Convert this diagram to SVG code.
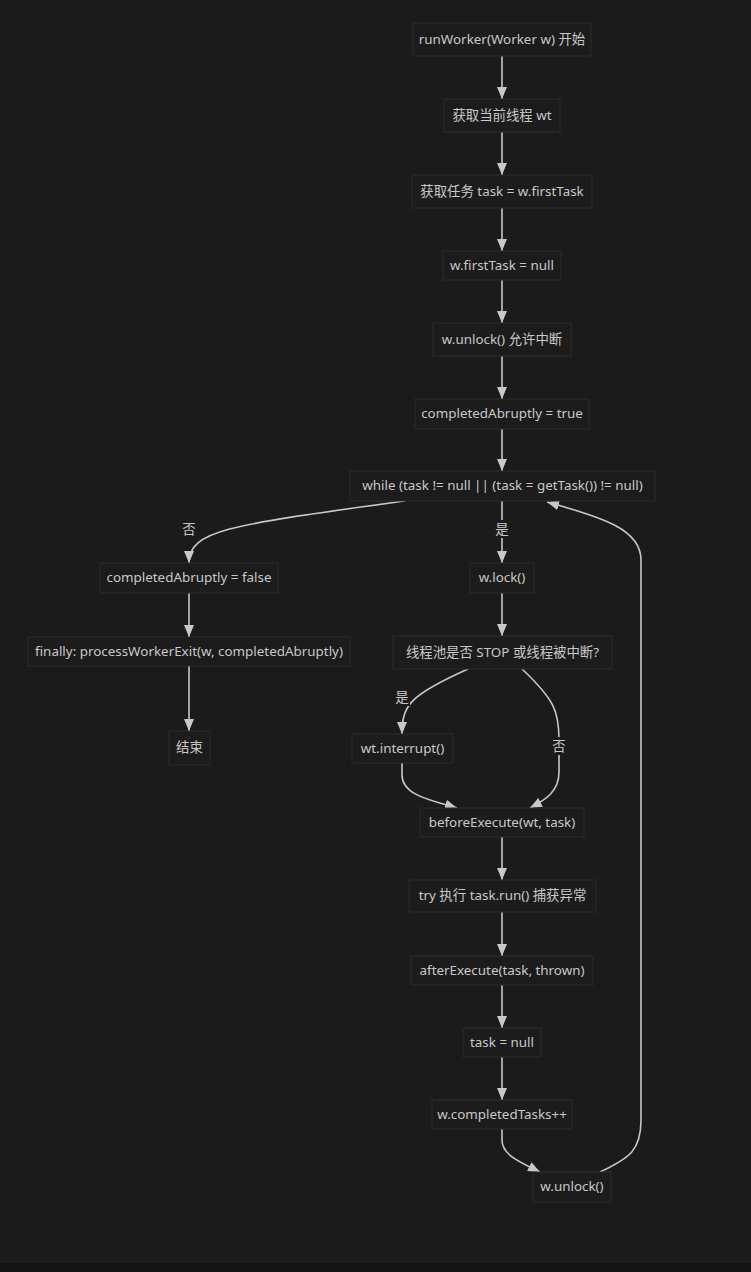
<svg xmlns="http://www.w3.org/2000/svg" width="751" height="1272" viewBox="0 0 751 1272">
<defs>
<style>
.bg{fill:#1b1b1b}
.node rect{fill:#1c1c1c;stroke:#2c2c2c;stroke-width:1}
.node text,.lbl text{fill:#c8c8c8;font-family:"Noto Sans","Noto Sans CJK SC",sans-serif;font-size:13.4px;text-anchor:middle;dominant-baseline:central}
.edge{fill:none;stroke:#c8c8c8;stroke-width:1.6;marker-end:url(#arr)}
.lbl rect{fill:#1b1b1b}
</style>
<marker id="arr" viewBox="0 0 12 10" refX="12" refY="5" markerWidth="12" markerHeight="10" orient="auto" markerUnits="userSpaceOnUse">
<path d="M0,0 L12,5 L0,10 z" fill="#c8c8c8"/>
</marker>
</defs>
<rect class="bg" x="0" y="0" width="751" height="1272"/>
<rect x="0" y="1263" width="751" height="9" fill="#131313"/>
<g id="connectors">
<path class="edge" d="M502,56 L502,99"/>
<path class="edge" d="M502,132 L502,175"/>
<path class="edge" d="M502,208 L502,251"/>
<path class="edge" d="M502,280 L502,323"/>
<path class="edge" d="M502,356 L502,399"/>
<path class="edge" d="M502,429 L502,471"/>
<path class="edge" d="M405,501 C230,525 189,530 189,563"/>
<path class="edge" d="M502,501 L502,563"/>
<path class="edge" d="M189,593 L189,637"/>
<path class="edge" d="M189,666 L189,731"/>
<path class="edge" d="M502,593 L502,636"/>
<path class="edge" d="M468,669 C410,695 402,705 402,734"/>
<path class="edge" d="M522,669 C555,700 559,712 559,740 L559,772 C559,792 545,800 530,808"/>
<path class="edge" d="M402,763 L402,775 C402,795 430,800 457,808"/>
<path class="edge" d="M502,837 L502,880"/>
<path class="edge" d="M502,912 L502,956"/>
<path class="edge" d="M502,985 L502,1028"/>
<path class="edge" d="M502,1057 L502,1100"/>
<path class="edge" d="M502,1129 L502,1140 C502,1155 520,1162 540,1172"/>
<path class="edge" d="M600,1172 C630,1158 641,1150 641,1120 L641,560 C641,530 605,518 547,502"/>
</g>
<g id="edge-labels">
<g class="lbl"><rect x="181" y="520" width="16" height="18"/><text x="189" y="529">否</text></g>
<g class="lbl"><rect x="494" y="520" width="16" height="18"/><text x="502" y="529">是</text></g>
<g class="lbl"><rect x="394" y="688" width="16" height="18"/><text x="402" y="697">是</text></g>
<g class="lbl"><rect x="551" y="737" width="16" height="18"/><text x="559" y="746">否</text></g>
</g>
<g id="n1" class="node"><rect x="413" y="23" width="178" height="33"/><text x="502" y="38.5">runWorker(Worker w) 开始</text></g>
<g id="n2" class="node"><rect x="444" y="99" width="116" height="33"/><text x="502" y="114.5">获取当前线程 wt</text></g>
<g id="n3" class="node"><rect x="412" y="175" width="180" height="33"/><text x="502" y="190.5">获取任务 task = w.firstTask</text></g>
<g id="n4" class="node"><rect x="443" y="251" width="118" height="29"/><text x="502" y="264.5">w.firstTask = null</text></g>
<g id="n5" class="node"><rect x="433" y="323" width="138" height="33"/><text x="502" y="338.5">w.unlock() 允许中断</text></g>
<g id="n6" class="node"><rect x="415" y="399" width="174" height="30"/><text x="502" y="413">completedAbruptly = true</text></g>
<g id="n7" class="node"><rect x="350" y="471" width="305" height="30"/><text x="502.5" y="485">while (task != null || (task = getTask()) != null)</text></g>
<g id="n8" class="node"><rect x="100" y="563" width="178" height="30"/><text x="189" y="577">completedAbruptly = false</text></g>
<g id="n9" class="node"><rect x="28" y="637" width="322" height="29"/><text x="189" y="650.5">finally: processWorkerExit(w, completedAbruptly)</text></g>
<g id="n10" class="node"><rect x="169" y="731" width="41" height="34"/><text x="189.5" y="747">结束</text></g>
<g id="n11" class="node"><rect x="470" y="563" width="64" height="30"/><text x="502" y="577">w.lock()</text></g>
<g id="n12" class="node"><rect x="393" y="636" width="219" height="33"/><text x="502.5" y="651.5">线程池是否 STOP 或线程被中断?</text></g>
<g id="n13" class="node"><rect x="352" y="734" width="101" height="29"/><text x="402.5" y="747.5">wt.interrupt()</text></g>
<g id="n14" class="node"><rect x="420" y="808" width="164" height="29"/><text x="502" y="821.5">beforeExecute(wt, task)</text></g>
<g id="n15" class="node"><rect x="409" y="880" width="187" height="32"/><text x="502.5" y="895">try 执行 task.run() 捕获异常</text></g>
<g id="n16" class="node"><rect x="411" y="956" width="182" height="29"/><text x="502" y="969.5">afterExecute(task, thrown)</text></g>
<g id="n17" class="node"><rect x="463" y="1028" width="78" height="29"/><text x="502" y="1041.5">task = null</text></g>
<g id="n18" class="node"><rect x="432" y="1100" width="140" height="29"/><text x="502" y="1113.5">w.completedTasks++</text></g>
<g id="n19" class="node"><rect x="533" y="1172" width="78" height="30"/><text x="572" y="1186">w.unlock()</text></g>
</svg>
